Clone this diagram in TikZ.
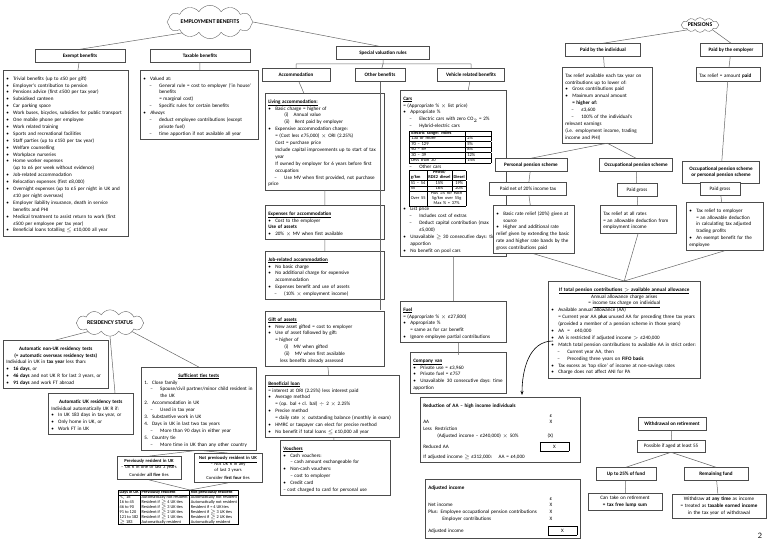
\documentclass[tikz,border=0pt]{standalone}
\usepackage{fontspec}
\setmainfont{Carlito}
\usetikzlibrary{shapes.symbols,arrows.meta}
\hyphenpenalty=10000 \exhyphenpenalty=10000
\newcommand\bi[1]{\par\hangindent=7pt\hangafter=1\noindent\makebox[7pt][l]{\textbullet}#1}
\newcommand\di[1]{\par\hangindent=16pt\hangafter=1\noindent\hspace*{6pt}\makebox[10pt][l]{--}#1}
\newcommand\nni[1]{\par\hangindent=16pt\hangafter=1\noindent\hspace*{6pt}\makebox[10pt][l]{\ }#1}
\newcommand\tl[1]{\par\noindent #1}
\begin{document}
\begin{tikzpicture}[x=1pt,y=-1pt,
 every node/.style={font=\fontsize{5.1}{6.9}\selectfont},
 box/.style={draw=black!70,line width=0.5pt,fill=white,inner sep=3pt},
 hd/.style={box,align=center,font=\fontsize{5.1}{6.5}\selectfont\bfseries,minimum height=13pt},
 lst/.style={box,anchor=north west,align=left},
 cl/.style={cloud,draw=black!60,cloud puffs=12,cloud puff arc=120,aspect=4,inner sep=1pt,font=\fontsize{5.8}{6.5}\selectfont\bfseries},
 ln/.style={draw=black!60,line width=0.5pt}]
\useasboundingbox (0,0) rectangle (768,545);
% ---------- Employment benefits
\node[cl] (eb) at (210,22) {EMPLOYMENT BENEFITS};
\node[hd,minimum width=90pt] (ex) at (80,56) {Exempt benefits};
\node[hd,minimum width=100pt] (tx) at (200,56) {Taxable benefits};
\node[lst,text width=119pt] (exl) at (3,70) {\bi{Trivial benefits (up to £50 per gift)}\bi{Employer's contribution to pension}\bi{Pensions advice (first £500 per tax year)}\bi{Subsidised canteen}\bi{Car parking space}\bi{Work buses, bicycles, subsidies for public transport}\bi{One mobile phone per employee}\bi{Work related training}\bi{Sports and recreational facilities}\bi{Staff parties (up to £150 per tax year)}\bi{Welfare counselling}\bi{Workplace nurseries}\bi{Home worker expenses\newline(up to £6 per week without evidence)}\bi{Job-related accommodation}\bi{Relocation expenses (first £8,000)}\bi{Overnight expenses (up to £5 per night in UK and £10 per night overseas)}\bi{Employer liability insurance, death in service benefits and PHI}\bi{Medical treatment to assist return to work (first £500 per employee per tax year)}\bi{Beneficial loans totalling $\le$ £10,000 all year}};
\node[lst,text width=112pt] (txl) at (140,70) {\bi{Valued at:}\di{General rule = cost to employer (`in house' benefits\newline= marginal cost)}\di{Specific rules for certain benefits}\bi{\textit{Always}}\di{deduct employee contributions (except private fuel)}\di{time apportion if not available all year}};
\draw[ln] (eb.south west) -- (ex.north);
\draw[ln] (eb.east) -- (383,47);
\draw[ln] (ex) -- (exl);
\draw[ln] (tx) -- (txl);
% ---------- Special valuation
\node[hd,minimum width=93pt] (sv) at (383,53) {Special valuation rules};
\node[hd,minimum width=68pt] (ac) at (296,75) {Accommodation};
\node[hd,minimum width=50pt] (ob) at (380,75) {Other benefits};
\node[hd,minimum width=67pt] (vr) at (471,75) {Vehicle related benefits};
\coordinate (svj) at (383,64);
\draw[ln] (sv) -- (svj) (296,64) -- (471,64) (296,64) -- (ac) (471,64) -- (vr) (svj) -- (ob);
\node[lst,text width=113pt] (la) at (265,93) {\tl{\textbf{\underline{Living accommodation:}}}\bi{Basic charge = higher of}\nni{(i)\quad Annual value}\nni{(ii)\quad Rent paid by employer}\bi{Expensive accommodation charge:\newline= (Cost less £75,000) $\times$ ORI (2.25\%)\newline Cost = purchase price\newline Include capital improvements up to start of tax year\newline If owned by employer for 6 years before first occupation:}\di{Use MV when first provided, not purchase price}};
\node[lst,text width=113pt] (ea) at (265,205) {\tl{\textbf{\underline{Expenses for accommodation}}}\bi{Cost to the employer}\tl{\textbf{Use of assets}}\bi{20\% $\times$ MV when first available}};
\node[lst,text width=113pt] (ja) at (265,251) {\tl{\textbf{\underline{Job-related accommodation}}}\bi{No basic charge}\bi{No additional charge for expensive accommodation}\bi{Expenses benefit and use of assets}\di{(10\% $\times$ employment income)}};
\draw[ln] (ac) -- (la) (la) -- (ea) (ea) -- (ja);
\draw[ln] (ob) -- (380,310);
\node[lst,text width=113pt] (ga) at (265,311) {\tl{\textbf{\underline{Gift of assets}}}\bi{New asset gifted = cost to employer}\bi{Use of asset followed by gift:\newline= higher of}\nni{(i)\quad MV when gifted}\nni{(ii)\quad MV when first available\newline\hspace*{12pt}less benefits already assessed}};
\node[lst,text width=128pt] (bl) at (265,375) {\tl{\textbf{\underline{Beneficial loan}}}\tl{= interest at ORI (2.25\%) less interest paid}\bi{Average method\newline= (op. bal + cl. bal) $\div$ 2 $\times$ 2.25\%}\bi{Precise method\newline= daily rate $\times$ outstanding balance (monthly in exam)}\bi{HMRC or taxpayer can elect for precise method}\bi{No benefit if total loans $\le$ £10,000 all year}};
\node[lst,text width=104pt] (vo) at (280,440) {\tl{\textbf{\underline{Vouchers}}}\bi{Cash vouchers:\newline-- cash amount exchangeable for}\bi{Non-cash vouchers:\newline-- cost to employer}\bi{Credit card\newline-- cost charged to card for personal use}};
\draw[ln] (ga) -- (bl) (bl) -- (vo);
\node[lst,text width=100pt] (ca) at (400,90) {\tl{\textbf{\underline{Cars}}}\tl{= (Appropriate \% $\times$ list price)}\bi{Appropriate \%}\di{Electric cars with zero CO$_2$ = 2\%}\di{Hybrid-electric cars}\par\vspace{1pt}\noindent\hspace*{6pt}{\fontsize{4.6}{5.6}\selectfont\setlength\tabcolsep{2pt}\renewcommand\arraystretch{0.9}\begin{tabular}{|p{52pt}|p{22pt}|}\hline\textbf{Electric range: miles} & \\\hline 130 or more & 2\%\\\hline 70 -- 129 & 5\%\\\hline 40 -- 69 & 8\%\\\hline 30 -- 39 & 12\%\\\hline Less than 30 & 14\%\\\hline\end{tabular}}\di{Other cars}\par\vspace{1pt}\noindent\hspace*{6pt}{\fontsize{4.4}{5.4}\selectfont\setlength\tabcolsep{1.5pt}\renewcommand\arraystretch{0.9}\begin{tabular}{|l|c|c|}\hline & \textbf{Petrol/} & \\ \textbf{g/km} & \textbf{RDE2 diesel} & \textbf{Diesel}\\\hline 51 -- 54 & 15\% & 19\%\\\hline 55 & 16\% & 20\%\\\hline Over 55 & \multicolumn{2}{c|}{\begin{tabular}{@{}c@{}}Plus 1\% for each\\5g/km over 55g\\Max \% = 37\%\end{tabular}}\\\hline\end{tabular}}\bi{List price}\di{Includes cost of extras}\di{Deduct capital contribution (max £5,000)}\bi{Unavailable $\ge$ 30 consecutive days: time apportion}\bi{No benefit on pool cars}};
\node[lst,text width=100pt] (fu) at (400,301) {\tl{\textbf{\underline{Fuel}}}\tl{= (Appropriate \% $\times$ £27,800)}\bi{Appropriate \%\newline= same as for car benefit}\bi{Ignore employee partial contributions}};
\node[lst,text width=90pt] (cv) at (410,352) {\tl{\textbf{\underline{Company van}}}\bi{Private use = £3,960}\bi{Private fuel = £757}\bi{Unavailable\, 30 consecutive days: time apportion}};
\draw[ln] (vr) -- (ca) (ca) -- (fu) (fu.south) ++(5,0) -- ++(0,12);
% ---------- Pensions
\node[cl] (pe) at (700,25) {PENSIONS};
\node[hd,minimum width=75pt] (pi) at (603,50) {Paid by the individual};
\node[hd,minimum width=62pt] (pr) at (731,50) {Paid by the employer};
\draw[ln] (pe.south west) -- (pi.north) (pe.south east) -- (pr.north);
\node[lst,text width=84pt] (tr) at (562,67) {\tl{Tax relief available each tax year on contributions up to lower of:}\bi{Gross contributions paid}\bi{Maximum annual amount\newline\textbf{= higher of:}}\di{£3,600}\di{100\% of the individual's relevant earnings\newline(i.e. employment income, trading income and PHI)}};
\node[lst,text width=58pt] (ta) at (696,67) {\tl{Tax relief = amount \textbf{paid}}};
\draw[ln] (pi) -- (tr) (pr) -- (ta);
\node[hd,minimum width=72pt] (pp) at (531,165) {Personal pension scheme};
\node[hd,minimum width=73pt] (op) at (636,165) {Occupational pension scheme};
\node[hd,minimum width=77pt,minimum height=22pt] (oo) at (721,172) {Occupational pension scheme\\or personal pension scheme};
\draw[ln] (tr.south) -- (pp.north) (tr.south) -- (op.north) (ta) -- (oo);
\node[hd,minimum width=77pt,font=\fontsize{5.1}{6.5}\selectfont] (pn) at (528,189) {Paid net of 20\% income tax};
\node[hd,minimum width=40pt,font=\fontsize{5.1}{6.5}\selectfont] (pg) at (637,190) {Paid gross};
\node[hd,minimum width=40pt,font=\fontsize{5.1}{6.5}\selectfont] (pg2) at (720,189) {Paid gross};
\draw[ln] (pp) -- (pn) (op) -- (pg) (oo) -- (pg2);
\node[lst,text width=75pt] (br) at (493,205) {\bi{Basic rate relief (20\%) given at source}\bi{Higher and additional rate relief given by extending the basic rate and higher rate bands by the gross contributions paid}};
\node[lst,text width=70pt] (ar) at (600,205) {\tl{Tax relief at all rates}\tl{= an allowable deduction from employment income}};
\node[lst,text width=71pt] (te) at (686,202) {\bi{Tax relief to employer\newline= an allowable deduction in calculating tax adjusted trading profits}\bi{An exempt benefit for the employee}};
\draw[ln] (pn) -- (br) (pg) -- (ar) (pg2) -- (te);
\node[lst,text width=146pt] (aa) at (548,281) {\par\noindent\centering\textbf{\underline{If total pension contributions $>$ available annual allowance}}\\Annual allowance charge arises\\= \underline{income tax charge on individual}\par\raggedright\bi{Available annual allowance (AA)\newline= Current year AA \textbf{plus} unused AA for preceding three tax years (provided a member of a pension scheme in those years)}\bi{AA\; = \; £40,000}\bi{AA is restricted if adjusted income $>$ £240,000}\bi{Match total pension contributions to available AA in strict order:}\di{Current year AA, then}\di{Preceding three years on \textbf{FIFO basis}}\bi{Tax excess as `top slice' of income at non-savings rates}\bi{Charge does not affect ANI for PA}};
\draw[ln] (br.south) -- (aa.north) (ar.south) -- (aa.north) (te.south) -- (aa.north);
\node[lst,text width=154pt] (ra) at (420,397) {\tl{\textbf{Reduction of AA -- high income individuals}}\par\vspace{3pt}\tl{\hfill £\hspace*{25pt}}\tl{AA\hfill X\hspace*{25pt}}\tl{Less\; Restriction}\tl{\hspace*{14pt}(Adjusted income -- £240,000) $\times$ 50\%\hfill (X)\hspace*{24pt}}\par\vspace{2pt}\tl{Reduced AA\hfill \fbox{\hspace*{10pt}X\hspace*{10pt}}\hspace*{8pt}}\par\vspace{2pt}\tl{If adjusted income $\ge$ £312,000: \; AA = £4,000}};
\node[lst,text width=149pt] (ai) at (425,479) {\tl{\textbf{Adjusted income}}\par\vspace{4pt}\tl{\hfill £\hspace*{25pt}}\tl{Net income\hfill X\hspace*{25pt}}\tl{Plus: Employee occupational pension contributions\hfill X\hspace*{25pt}}\tl{\hspace*{14pt}Employer contributions\hfill X\hspace*{25pt}}\par\vspace{3pt}\tl{Adjusted income\hfill \fbox{\hspace*{10pt}X\hspace*{10pt}}\hspace*{8pt}}};
\coordinate (aaL) at (553,341);
\draw[black,line width=0.6pt,-{Stealth[length=4pt]}] (aaL) to[out=180,in=90] (522,395);
\node[hd,minimum width=68pt] (wr) at (672,424) {Withdrawal on retirement};
\node[hd,minimum width=68pt,font=\fontsize{5.1}{6.5}\selectfont,minimum height=12pt] (pa) at (671,446) {Possible if aged at least 55};
\node[hd,minimum width=60pt] (u25) at (626,474) {Up to 25\% of fund};
\node[hd,minimum width=64pt] (rf) at (716,474) {Remaining fund};
\draw[ln] (wr) -- (pa) (pa.south) -- (u25.north) (pa.south) -- (rf.north);
\node[box,align=center,text width=68pt] (ct) at (625,502) {Can take on retirement\\\textbf{= tax free lump sum}};
\node[box,align=center,text width=88pt] (wd) at (719,506) {Withdraw \textbf{at any time} as income\\= treated as \textbf{taxable earned income}\\in the tax year of withdrawal};
\draw[ln] (u25) -- (ct) (rf) -- (wd);
% ---------- Residency
\node[cl] (rs) at (110,323) {RESIDENCY STATUS};
\node[lst,text width=99pt] (an) at (3,340) {\par\noindent\centering\textbf{Automatic non-UK residency tests\\(= automatic overseas residency tests)}\par\raggedright\tl{Individual in UK in \textbf{tax year} less than:}\bi{\textbf{16 days}, or}\bi{\textbf{46 days} and not UK R for last 3 years, or}\bi{\textbf{91 days} and work FT abroad}};
\node[lst,text width=79pt] (au) at (48,393) {\par\noindent\centering\textbf{Automatic UK residency tests}\par\raggedright\tl{Individual automatically UK R if:}\bi{In UK 183 days in tax year, or}\bi{Only home in UK, or}\bi{Work FT in UK}};
\node[lst,text width=109pt] (st) at (141,367) {\par\noindent\centering\textbf{\underline{Sufficient ties tests}}\par\raggedright\tl{1.\; Close family}\di{Spouse/civil partner/minor child resident in the UK}\tl{2.\; Accommodation in UK}\di{Used in tax year}\tl{3.\; Substantive work in UK}\tl{4.\; Days in UK in last two tax years}\di{More than 90 days in either year}\tl{5.\; Country tie}\di{More time in UK than any other country}};
\draw[ln] (rs.south west) -- (an.north) (rs.south) -- (115,393) (rs.south east) -- (st.north);
\node[box,align=center,text width=58pt,font=\fontsize{4.6}{6}\selectfont] (pv) at (149,468) {\textbf{\underline{Previously resident in UK}}\\-- UK R in one of last 3 years\\[2pt]Consider \textbf{all five} ties};
\node[box,align=center,text width=62pt,font=\fontsize{4.6}{6}\selectfont] (np) at (228,468) {\textbf{\underline{Not previously resident in UK}}\\-- Not UK R in any of last 3 years\\[2pt]Consider \textbf{first four} ties};
\draw[ln] (st.south) -- (pv.north) (st.south) -- (np.north);
\node[anchor=north west,inner sep=0pt,font=\fontsize{4.3}{5.2}\selectfont] (tb) at (118,490) {\setlength\tabcolsep{1.5pt}\renewcommand\arraystretch{0.85}\begin{tabular}{|l|l|l|}\hline\textbf{Days in UK} & \textbf{Previously resident} & \textbf{Not previously resident}\\\hline $<$ 16 & Automatically not resident & Automatically not resident\\ 16 to 45 & Resident if $\ge$ 4 UK ties & Automatically not resident\\ 46 to 90 & Resident if $\ge$ 3 UK ties & Resident if = 4 UK ties\\ 91 to 120 & Resident if $\ge$ 2 UK ties & Resident if $\ge$ 3 UK ties\\ 121 to 182 & Resident if $\ge$ 1 UK ties & Resident if $\ge$ 2 UK ties\\ $\ge$ 183 & Automatically resident & Automatically resident\\\hline\end{tabular}};
\draw[ln] (pv.south) -- (190,490) (np.south) -- (190,490);
\node[font=\fontsize{8}{9}\selectfont\sffamily] (pgn) at (760,536) {2};
\end{tikzpicture}
\end{document}
